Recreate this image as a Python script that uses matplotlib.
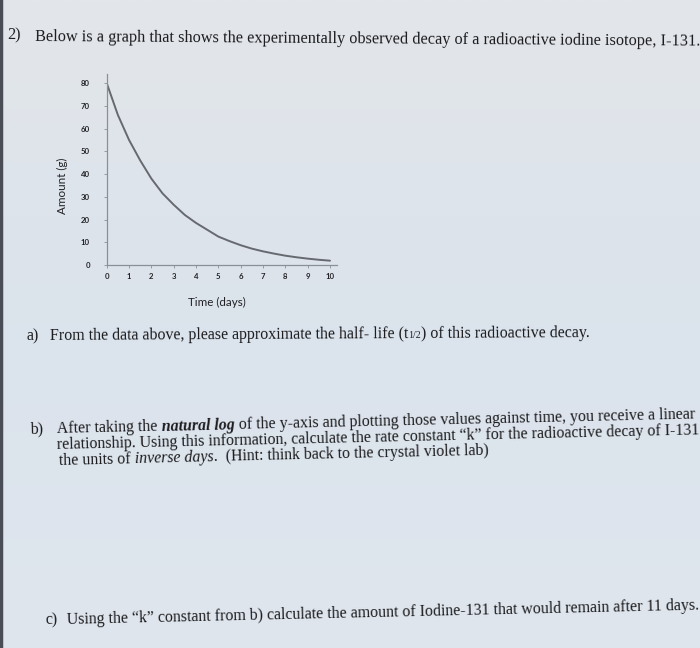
import math
import numpy as np
import matplotlib
matplotlib.use("Agg")
import matplotlib.pyplot as plt
from matplotlib.colors import LinearSegmentedColormap

# ---------------- data ----------------
time_days = [0, 0.5, 1, 1.5, 2, 2.5, 3, 3.5, 4, 4.5, 5, 5.5, 6, 6.5, 7, 7.5, 8, 8.5, 9, 9.5, 10]
amount_g = [80, 66, 55, 46, 38, 31.5, 26.5, 22, 18.5, 15.5, 12.5, 10.5, 8.7, 7.2, 6.0, 5.0, 4.1, 3.4, 2.8, 2.3, 1.9]
x_ticks = list(range(0, 11))
y_ticks = list(range(0, 90, 10))
x_tick_labels = [str(v) for v in x_ticks]
y_tick_labels = [str(v) for v in y_ticks]
x_title = "Time (days)"
y_title = "Amount (g)"

plt.rcParams["font.family"] = ["Lato", "DejaVu Sans"]

W, H = 700, 648
BG = "#dde3ea"
INK = "#1c1c1e"

fig = plt.figure(figsize=(W / 100, H / 100), dpi=100, facecolor=BG)

# subtle paper gradient
bg_ax = fig.add_axes([0, 0, 1, 1], zorder=-10)
grad = np.linspace(0, 1, 256).reshape(-1, 1)
cmap = LinearSegmentedColormap.from_list("paper", ["#e3e6ea", "#dbe3ec", "#dfe6ee"])
bg_ax.imshow(grad, aspect="auto", cmap=cmap, extent=[0, 1, 0, 1])
bg_ax.axis("off")
# dark left edge of photo
fig.add_artist(plt.Line2D([0.002, 0.002], [0, 1], color="#4a4d55", lw=2.5, transform=fig.transFigure))

# ---------------- chart ----------------
left, right, bottom, top = 106.7, 336.7, 265.0, 74.0
ax = fig.add_axes([left / W, 1 - bottom / H, (right - left) / W, (bottom - top) / H])
ax.set_facecolor("none")
ax.plot(time_days, amount_g, color="#66696f", lw=1.4, solid_capstyle="round")
ax.set_xlim(0, 10.3)
ax.set_ylim(0, 84)
ax.set_xticks(x_ticks, labels=x_tick_labels, fontweight="bold", fontsize=5.6, color="#222226")
ax.set_yticks(y_ticks, labels=y_tick_labels, fontweight="bold", fontsize=5.6, color="#222226")
for s in ["top", "right"]:
    ax.spines[s].set_visible(False)
for s in ["left", "bottom"]:
    ax.spines[s].set_color("#8b9098")
    ax.spines[s].set_linewidth(0.9)
ax.tick_params(axis="both", length=2, width=0.6, color="#8b9098")
ax.tick_params(axis="y", pad=10)
ax.tick_params(axis="x", pad=3.5)
ax.set_xlabel(x_title, fontsize=8.4, color="#222226")
ax.set_ylabel(y_title, fontsize=8.4, color="#222226")
ax.xaxis.set_label_coords((217 - left) / (right - left), -(297 - bottom) / (bottom - top))
ax.yaxis.set_label_coords((68 - left) / (right - left), (bottom - 186) / (bottom - top))

# ---------------- worksheet text ----------------
renderer = fig.canvas.get_renderer()
SERIF = "Liberation Serif"


def seg_width(seg, size):
    t = fig.text(0, 0, seg[0], fontsize=size * seg[1].get("scale", 1.0), fontfamily=SERIF,
                 fontstyle=seg[1].get("style", "normal"), fontweight=seg[1].get("weight", "normal"))
    bb = t.get_window_extent(renderer=renderer)
    t.remove()
    return bb.width


def line_width(segs, size):
    return sum(seg_width(s, size) for s in segs)


def fit_size(segs, target):
    s0 = 12.0
    return s0 * target / line_width(segs, s0)


def draw_line(x, y, segs, size, angle):
    a = math.radians(angle)
    cx, cy = x, y  # pixel coords, y from top (baseline)
    for txt, st in segs:
        sz = size * st.get("scale", 1.0)
        fig.text(cx / W, 1 - cy / H, txt, fontsize=sz, fontfamily=SERIF,
                 fontstyle=st.get("style", "normal"), fontweight=st.get("weight", "normal"),
                 color=INK, ha="left", va="baseline", rotation=angle, rotation_mode="anchor")
        w = seg_width((txt, st), size)
        cx += w * math.cos(a)
        cy -= w * math.sin(a)


N = {}
IT = {"style": "italic"}
BI = {"style": "italic", "weight": "bold"}

# heading
head = [("Below is a graph that shows the experimentally observed decay of a radioactive iodine isotope, I-131.", N)]
hs = fit_size(head, 697 - 35)
draw_line(7, 39.5, [("2)", N)], hs, -0.4)
draw_line(35, 41, head, hs, -0.4)

# a)
qa = [("From the data above, please approximate the half- life (t", N), ("1/2", {"scale": 0.62}),
      (") of this radioactive decay.", N)]
sa = fit_size(qa, 591 - 50)
draw_line(26, 340, [("a)", N)], sa, 0.3)
draw_line(50, 340, qa, sa, 0.3)

# b)
b1 = [("After taking the ", N), ("natural log", BI),
      (" of the y-axis and plotting those values against time, you receive a linear", N)]
b2 = [("relationship. Using this information, calculate the rate constant \u201ck\u201d for the radioactive decay of I-131", N)]
b3 = [("the units of ", N), ("inverse days", IT), (".  (Hint: think back to the crystal violet lab)", N)]
sb = fit_size(b1, 693 - 57)
draw_line(30, 433, [("b)", N)], sb, 1.3)
draw_line(57, 433, b1, sb, 1.3)
draw_line(57, 449, b2, sb, 1.3)
draw_line(59, 465, b3, sb, 1.3)

# c)
qc = [("Using the \u201ck\u201d constant from b) calculate the amount of Iodine-131 that would remain after 11 days.", N)]
sc = fit_size(qc, 696 - 67)
draw_line(45, 624, [("c)", N)], sc, 1.3)
draw_line(67, 624, qc, sc, 1.3)

fig.savefig("out.png", dpi=100, facecolor=fig.get_facecolor())
